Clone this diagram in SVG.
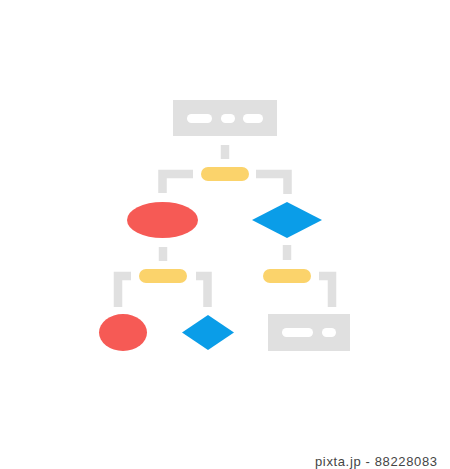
<svg xmlns="http://www.w3.org/2000/svg" width="450" height="469" viewBox="0 0 450 469">
<style>
.g{fill:#e0e0e0}
.w{fill:#ffffff}
.y{fill:#fbd36b}
.r{fill:#f65a55}
.b{fill:#0a9de8}
.c{fill:none;stroke:#e0e0e0;stroke-width:8.5}
.t{font-family:"Liberation Sans",Arial,sans-serif;font-size:13px;fill:#444}
</style>
<rect width="450" height="469" fill="#ffffff"/>
<g id="connectors">
<line class="c" x1="225" y1="145" x2="225" y2="159"/>
<polyline class="c" points="193,174 162.5,174 162.5,193"/>
<polyline class="c" points="256,174 287.5,174 287.5,194"/>
<line class="c" x1="163" y1="247" x2="163" y2="261"/>
<line class="c" x1="287" y1="245" x2="287" y2="260"/>
<polyline class="c" points="131,276 118,276 118,307"/>
<polyline class="c" points="196,276 207.5,276 207.5,307"/>
<polyline class="c" points="319,276 332,276 332,307"/>
</g>
<g id="top-box">
<rect class="g" x="173" y="100" width="104" height="36"/>
<rect class="w" x="187" y="114" width="25" height="9" rx="4.5"/>
<rect class="w" x="221" y="114" width="14" height="9" rx="4.5"/>
<rect class="w" x="243" y="114" width="20" height="9" rx="4.5"/>
</g>
<g id="pill-top"><rect class="y" x="201" y="167" width="48" height="14" rx="7"/></g>
<g id="ellipse-mid"><ellipse class="r" cx="162.5" cy="220" rx="35.5" ry="18"/></g>
<g id="diamond-mid"><polygon class="b" points="252,220 287,202 322,220 287,238"/></g>
<g id="pill-left"><rect class="y" x="139" y="269" width="48" height="14" rx="7"/></g>
<g id="pill-right"><rect class="y" x="263" y="269" width="48" height="14" rx="7"/></g>
<g id="ellipse-bottom"><ellipse class="r" cx="123" cy="332.5" rx="24" ry="18.5"/></g>
<g id="diamond-bottom"><polygon class="b" points="182,332.5 208,315 234,332.5 208,350"/></g>
<g id="bottom-box">
<rect class="g" x="268" y="314" width="82" height="37"/>
<rect class="w" x="282" y="328" width="31" height="9" rx="4.5"/>
<rect class="w" x="322" y="328" width="14" height="9" rx="4.5"/>
</g>
<text class="t" x="315" y="466" textLength="122" lengthAdjust="spacing">pixta.jp - 88228083</text>
</svg>
